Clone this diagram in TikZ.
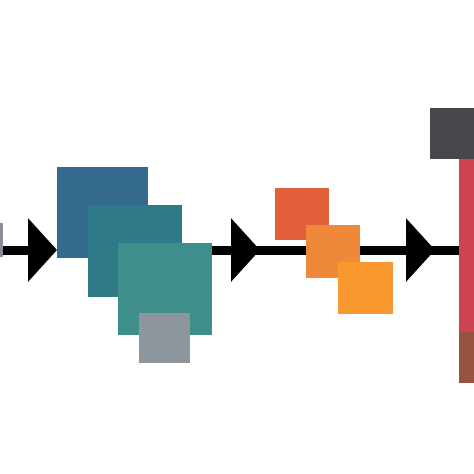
\documentclass[tikz,border=0pt]{standalone}
\usetikzlibrary{arrows.meta,decorations.markings,backgrounds}
\definecolor{stageA}{HTML}{346A8E}
\definecolor{stageB}{HTML}{2F7A88}
\definecolor{stageC}{HTML}{3E8E8B}
\definecolor{stageD}{HTML}{8D969D}
\definecolor{heatA}{HTML}{E2613B}
\definecolor{heatB}{HTML}{EF8838}
\definecolor{heatC}{HTML}{F9982F}
\definecolor{capdark}{HTML}{45474C}
\definecolor{barred}{HTML}{CE4352}
\definecolor{barbrown}{HTML}{965440}
\definecolor{srcgray}{HTML}{8A8C99}
\tikzset{
    sq/.style={inner sep=0pt, outer sep=0pt, draw=none},
    flow/.style={line width=0.18cm, black},
    bigtip/.style={decoration={markings, mark=at position #1 with {\arrow{Triangle[length=0.58cm, width=1.24cm]}}}, postaction={decorate}}
}
\begin{document}
\begin{tikzpicture}[x=0.02cm, y=-0.02cm]
    \path[use as bounding box, clip] (0,0) rectangle (474,474);
    \coordinate (axis) at (0,250);
    % source
    \node[sq, fill=srcgray, minimum width=0.68cm, minimum height=0.68cm] (src) at (-14,240) {};
    % first stage
    \node[sq, fill=stageA, minimum width=1.82cm, minimum height=1.82cm] (stageA) at (102.5,212.5) {};
    \node[sq, fill=stageB, minimum width=1.88cm, minimum height=1.84cm] (stageB) at (135,251) {};
    \node[sq, fill=stageC, minimum width=1.88cm, minimum height=1.84cm] (stageC) at (165,289) {};
    \node[sq, fill=stageD, minimum width=1.02cm, minimum height=1.00cm] (stageD) at (164.5,338) {};
    % second stage
    \node[sq, fill=heatA, minimum width=1.08cm, minimum height=1.04cm] (heatA) at (302,214) {};
    \node[sq, fill=heatB, minimum width=1.08cm, minimum height=1.06cm] (heatB) at (333,251.5) {};
    \node[sq, fill=heatC, minimum width=1.10cm, minimum height=1.04cm] (heatC) at (365.5,288) {};
    % end bar
    \node[sq, fill=capdark, minimum width=1.02cm, minimum height=1.02cm] (cap) at (455.5,133.5) {};
    \node[sq, fill=barred, minimum width=0.52cm, minimum height=3.46cm] (bar) at (472,245.5) {};
    \node[sq, fill=barbrown, minimum width=0.52cm, minimum height=1.02cm] (foot) at (472,357.5) {};

    \begin{scope}[on background layer]
        \draw[flow, -{Triangle[length=0.58cm, width=1.24cm]}] (src.east |- axis) -- (stageA.west |- axis);
        \draw[flow, bigtip=-0.92cm] (stageC.east |- axis) -- (heatB.west |- axis);
        \draw[flow, bigtip=-0.48cm] (heatB.east |- axis) -- (bar.west |- axis);
    \end{scope}
\end{tikzpicture}
\end{document}
